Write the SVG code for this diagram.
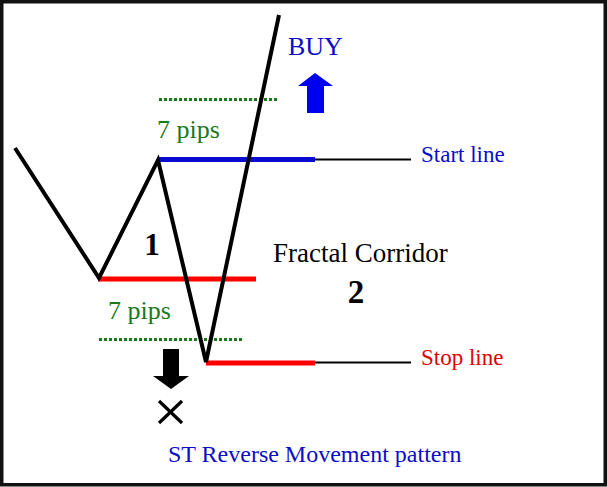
<svg xmlns="http://www.w3.org/2000/svg" width="607" height="487" viewBox="0 0 607 487">
<style>
text{font-family:"Liberation Serif","Times New Roman",serif}
.blue{fill:#0c0cc8}
.green{fill:#1a7a1a}
.dot{stroke:#1a7a1a;stroke-width:3;stroke-dasharray:3 2;fill:none}
.thin{stroke:#000;stroke-width:2;fill:none}
.price{stroke:#000;stroke-width:4;fill:none;stroke-linejoin:miter}
</style>
<rect x="0" y="0" width="607" height="487" fill="#fff"/>
<rect x="1.75" y="1.75" width="603.5" height="483" fill="none" stroke="#111" stroke-width="3.5"/>
<g id="levels">
<line class="thin" x1="315" y1="159.5" x2="411" y2="159.5"/>
<line x1="158" y1="159.5" x2="315" y2="159.5" stroke="#0a0ad2" stroke-width="5"/>
<line x1="98" y1="279" x2="256" y2="279" stroke="#ff0000" stroke-width="5"/>
<line class="thin" x1="315" y1="362.5" x2="411" y2="362.5"/>
<line x1="206" y1="363" x2="315" y2="363" stroke="#ff0000" stroke-width="5"/>
<line class="dot" x1="159" y1="99.5" x2="278" y2="99.5"/>
<line class="dot" x1="99" y1="339.5" x2="243" y2="339.5"/>
</g>
<g id="connectors">
<polyline class="price" points="15,148 99,278 158,160 206,362 279,15"/>
</g>
<g id="buy-arrow">
<polygon points="315,73 333,86 324,86 324,113 307,113 307,86 298,86" fill="#0000f0"/>
<text x="288" y="55" font-size="26" class="blue">BUY</text>
</g>
<g id="sell-arrow">
<polygon points="163,349 179,349 179,376 189,376 171,389 153,376 163,376" fill="#000"/>
<line x1="159" y1="401" x2="182" y2="423" stroke="#000" stroke-width="3.2"/>
<line x1="182" y1="401" x2="159" y2="423" stroke="#000" stroke-width="3.2"/>
</g>
<g id="labels">
<text x="157" y="138" font-size="26" class="green">7 pips</text>
<text x="108" y="319" font-size="26" class="green">7 pips</text>
<text x="152" y="255" font-size="31" font-weight="bold" text-anchor="middle">1</text>
<text x="356" y="302.5" font-size="33" font-weight="bold" text-anchor="middle">2</text>
<text x="273" y="262" font-size="27">Fractal Corridor</text>
<text x="421" y="161.5" font-size="23" class="blue">Start line</text>
<text x="421" y="365" font-size="23" fill="#e00000">Stop line</text>
<text x="168" y="461.5" font-size="24" class="blue">ST Reverse Movement pattern</text>
</g>
</svg>
